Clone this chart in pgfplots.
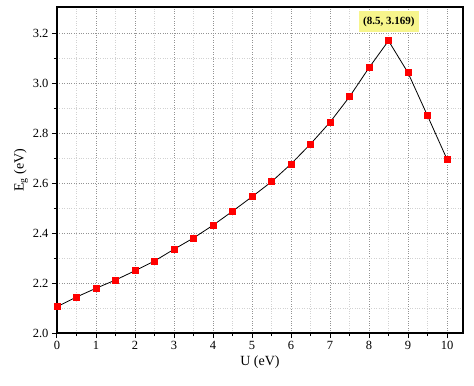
\documentclass[border=0pt]{standalone}
\usepackage{pgfplots}
\pgfplotsset{compat=1.18}
\usepackage{fontspec}
\setmainfont{Liberation Serif}
\definecolor{annot}{HTML}{F7F58C}
\begin{document}
\begin{tikzpicture}
\begin{axis}[
  scale only axis, width=406pt, height=326pt,
  xmin=0, xmax=10.41, ymin=2.0, ymax=3.304,
  xtick={0,1,...,10}, ytick={2.0,2.2,...,3.21},
  minor x tick num=1, minor y tick num=1,
  /pgf/number format/assume math mode=true,
  yticklabel style={/pgf/number format/fixed,/pgf/number format/fixed zerofill,/pgf/number format/precision=1},
  tick label style={font=\fontsize{12.5}{14}\selectfont},
  label style={font=\fontsize{14}{16}\selectfont},
  xlabel={U (eV)}, ylabel={E$_\mathrm{g}$ (eV)},
  xlabel style={yshift=1pt},
  ylabel style={yshift=-2pt},
  tick align=outside, tick pos=left,
  major tick length=5pt, minor tick length=3pt,
  every tick/.style={black, line width=1pt},
  axis line style={line width=1.6pt},
  grid=both,
  major grid style={dotted, gray!85, line width=0.9pt},
  minor grid style={dotted, gray!35, line width=0.6pt},
  clip=false,
]
\addplot[black, line width=0.8pt, mark=square*, mark size=3pt, mark options={fill=red, draw=red}] coordinates {
(0,2.105) (0.5,2.144) (1,2.179) (1.5,2.212) (2,2.249) (2.5,2.288) (3,2.335) (3.5,2.380) (4,2.431) (4.5,2.487) (5,2.545) (5.5,2.605) (6,2.676) (6.5,2.756) (7,2.843) (7.5,2.945) (8,3.061) (8.5,3.169) (9,3.041) (9.5,2.869) (10,2.695)
};
\node[fill=annot, font=\bfseries\fontsize{11}{13}\selectfont, inner xsep=4pt, inner ysep=5.5pt] at (axis cs:8.51,3.245) {(8.5, 3.169)};
\path (axis description cs:-0.1404,-0.1595) rectangle (axis description cs:1.0271,1.0215);
\end{axis}
\end{tikzpicture}
\end{document}
